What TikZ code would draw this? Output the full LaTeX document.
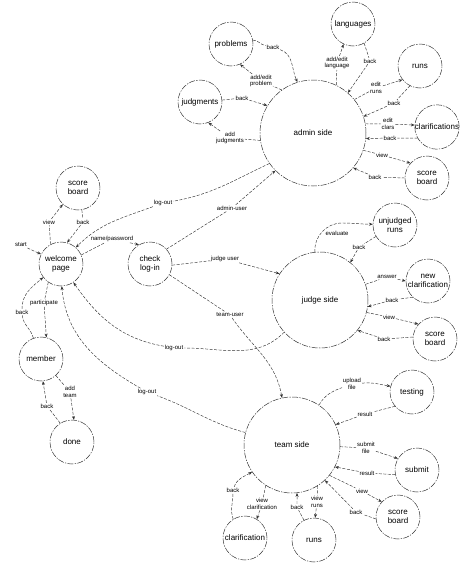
\documentclass[tikz,border=0pt]{standalone}
\usepackage{fontspec}
\setmainfont{Liberation Sans}
\usetikzlibrary{arrows.meta}
\newcommand\ndfont{\fontsize{8}{8.6}\selectfont}
\newcommand\lbfont{\fontsize{6}{6.4}\selectfont}
\tikzset{
  st/.style={circle, draw=black!80, line width=0.5pt,
    dash pattern=on 6pt off 1.3pt on 1.3pt off 1.3pt,
    minimum size=44pt, inner sep=0pt, align=center, font=\ndfont},
  lbl/.style={fill=white, inner sep=0.8pt, align=center, font=\lbfont},
  conn/.style={draw=black!80, line width=0.45pt, dash pattern=on 3pt off 1.5pt,
    -{Stealth[length=3.8pt,width=3pt]}},
}
\begin{document}
\begin{tikzpicture}[x=1pt,y=1pt]
\useasboundingbox (0,0) rectangle (474,-568);
% states
\node[st] (problems) at (231,-44) {problems};
\node[st] (languages) at (353,-24) {languages};
\node[st] (runsA) at (420,-66) {runs};
\node[st] (judgments) at (200,-102) {judgments};
\node[st, minimum size=106pt] (admin) at (313,-133) {admin side};
\node[st] (clarifs) at (437,-127) {clarifications};
\node[st] (scoreA) at (427,-178) {score\\board};
\node[st] (scoreW) at (78,-188) {score\\board};
\node[st] (welcome) at (61,-264) {welcome\\page};
\node[st] (check) at (150,-264) {check\\log-in};
\node[st] (unjudged) at (395,-225) {unjudged\\runs};
\node[st, minimum size=96pt] (judge) at (320,-300) {judge side};
\node[st] (newclar) at (428,-281) {new\\clarification};
\node[st] (scoreJ) at (435,-339) {score\\board};
\node[st] (member) at (41,-359) {member};
\node[st] (done) at (72,-442) {done};
\node[st] (testing) at (412,-392) {testing};
\node[st, minimum size=96pt] (team) at (292,-445) {team side};
\node[st] (submit) at (417,-470) {submit};
\node[st] (scoreT) at (398,-517) {score\\board};
\node[st] (clarif) at (245,-538) {clarification};
\node[st] (runsT) at (314,-540) {runs};
% labels
\node[lbl] (Lap) at (261,-81) {add/edit\\problem};
\node[lbl] (Lpb) at (273,-47) {back};
\node[lbl] (Lal) at (337,-63) {add/edit\\language};
\node[lbl] (Llb) at (370,-61) {back};
\node[lbl] (Lar) at (376,-88) {edit\\runs};
\node[lbl] (Lrb) at (394,-103) {back};
\node[lbl] (Ljb) at (242,-98) {back};
\node[lbl] (Laj) at (230,-138) {add\\judgments};
\node[lbl] (Lac) at (388,-124) {edit\\clars};
\node[lbl] (Lcb) at (390,-138) {back};
\node[lbl] (Lav) at (382,-155) {view};
\node[lbl] (Lsb) at (375,-177) {back};
\node[lbl] (Lstart) at (21,-245) {start};
\node[lbl] (Lwv) at (49,-222) {view};
\node[lbl] (Lsw) at (83,-222) {back};
\node[lbl] (Lnp) at (112,-239) {name/password};
\node[lbl] (Lau) at (232,-208) {admin-user};
\node[lbl] (Llo1) at (163,-203) {log-out};
\node[lbl] (Lju) at (225,-259) {judge user};
\node[lbl] (Ltu) at (230,-315) {team-user};
\node[lbl] (Llo2) at (174,-348) {log-out};
\node[lbl] (Llo3) at (147,-392) {log-out};
\node[lbl] (Lwp) at (44,-303) {participate};
\node[lbl] (Lmb) at (22,-312) {back};
\node[lbl] (Lmd) at (70,-392) {add\\team};
\node[lbl] (Ldm) at (47,-406) {back};
\node[lbl, fill=none] (Lev) at (337,-233) {evaluate};
\node[lbl] (Lub) at (359,-247) {back};
\node[lbl] (Lan) at (387,-277) {answer};
\node[lbl] (Lnb) at (392,-300) {back};
\node[lbl] (Ljv) at (389,-317) {view};
\node[lbl] (Lsjb) at (384,-339) {back};
\node[lbl] (Lup) at (352,-384) {upload\\file};
\node[lbl] (Ltr) at (365,-414) {result};
\node[lbl] (Lsf) at (366,-448) {submit\\file};
\node[lbl] (Lsr) at (367,-473) {result};
\node[lbl] (Ltv) at (362,-491) {view};
\node[lbl] (Ltb) at (356,-512) {back};
\node[lbl] (Lvr) at (317,-502) {view\\runs};
\node[lbl] (Lrtb) at (297,-507) {back};
\node[lbl] (Lvc) at (262,-504) {view\\clarification};
\node[lbl] (Lcb2) at (233,-490) {back};
\coordinate (evtop) at (342,-223);
% admin side
\draw[conn] (admin.126) -- (Lap) -- (problems.-66);
\draw[conn] (problems.10) to[out=0,in=170] (Lpb) to[out=-20,in=115] (admin.107);
\draw[conn] (admin.64) -- (Lal) -- (languages.-115);
\draw[conn] (languages.-60) -- (Llb) -- (admin.49);
\draw[conn] (admin.39) -- (Lar) -- (runsA.-142);
\draw[conn] (runsA.-117) -- (Lrb) -- (admin.18);
\draw[conn] (judgments.5) -- (Ljb) -- (admin.149);
\draw[conn] (admin.188) -- (Laj) -- (judgments.-68);
\draw[conn] (admin.10) -- (Lac) -- (clarifs.175);
\draw[conn] (clarifs.-150) -- (Lcb) -- (admin.-6);
\draw[conn] (admin.-19) -- (Lav) -- (scoreA.138);
\draw[conn] (scoreA.180) -- (Lsb) -- (admin.-41);
% welcome area
\draw[conn] (Lstart) -- (welcome.154);
\draw[conn] (welcome.118) -- (Lwv) -- (scoreW.-133);
\draw[conn] (scoreW.-80) -- (Lsw) -- (welcome.74);
\draw[conn] (welcome.24) -- (Lnp) -- (check.120);
\draw[conn] (check.42) -- (Lau) -- (admin.225);
\draw[conn] (admin.215) to[out=205,in=10] (Llo1) to[out=200,in=45] (welcome.48);
\draw[conn] (check.-3) -- (Lju) -- (judge.147);
\draw[conn] (check.-29) -- (Ltu) to[out=-55,in=100] (team.102);
\draw[conn] (judge.222) to[out=225,in=0] (Llo2) to[out=170,in=-55] (welcome.-56);
\draw[conn] (team.165) to[out=165,in=-20] (Llo3) to[out=150,in=-85] (welcome.-88);
\draw[conn] (welcome.-125) -- (Lwp) -- (member.76);
\draw[conn] (member.110) to[out=105,in=-85] (Lmb) to[out=90,in=-140] (welcome.-143);
\draw[conn] (member.-48) -- (Lmd) -- (done.85);
\draw[conn] (done.122) -- (Ldm) -- (member.-85);
% judge side
\draw[conn] (judge.96) to[out=95,in=180] (evtop) to[out=0,in=180] (unjudged.178);
\draw[conn] (unjudged.-149) -- (Lub) -- (judge.51);
\draw[conn] (judge.19) -- (Lan) -- (newclar.180);
\draw[conn] (newclar.-133) -- (Lnb) -- (judge.-8);
\draw[conn] (judge.-15) -- (Ljv) -- (scoreJ.138);
\draw[conn] (scoreJ.175) -- (Lsjb) -- (judge.-39);
% team side
\draw[conn] (team.56) to[out=60,in=-160] (Lup) to[out=5,in=170] (testing.165);
\draw[conn] (testing.-140) -- (Ltr) -- (team.25);
\draw[conn] (team.-2) -- (Lsf) -- (submit.149);
\draw[conn] (submit.-168) -- (Lsr) -- (team.-27);
\draw[conn] (team.-39) -- (Ltv) -- (scoreT.137);
\draw[conn] (scoreT.-175) -- (Ltb) -- (team.-47);
\draw[conn] (team.-58) -- (Lvr) -- (runsT.87);
\draw[conn] (runsT.117) -- (Lrtb) -- (team.-84);
\draw[conn] (team.-123) -- (Lvc) -- (clarif.58);
\draw[conn] (clarif.122) to[out=110,in=-90] (Lcb2) to[out=70,in=-150] (team.-146);
\end{tikzpicture}
\end{document}
